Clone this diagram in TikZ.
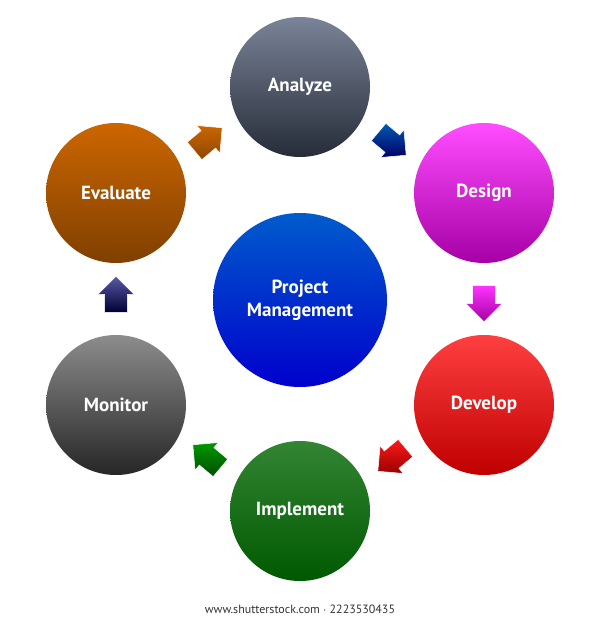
\documentclass[tikz,border=0pt]{standalone}
\usepackage{fontspec}
\setmainfont{PT Sans}
\usetikzlibrary{shapes.arrows}
\definecolor{anaT}{HTML}{7A8498}
\definecolor{anaB}{HTML}{262C38}
\begin{document}
\begin{tikzpicture}[x=1pt,y=-1pt,
  stage/.style={circle,minimum size=140pt,inner sep=0pt,text=white,font=\bfseries\fontsize{19}{23}\selectfont,align=center},
  barrow/.style={single arrow,minimum height=36pt,minimum width=36pt,single arrow head extend=6pt,inner xsep=2pt,inner ysep=10pt,draw=white,line width=0.5pt}]
\useasboundingbox (0,0) rectangle (600,620);
\node[stage,top color=anaT,bottom color=anaB] (ana) at (300,87) {Analyze};
\node[stage,top color=magenta!70,bottom color=violet!70!magenta] (des) at (484,193) {Design};
\node[stage,top color=red!75,bottom color=red!75!black] (dev) at (484,405) {Develop};
\node[stage,top color=green!40!black!80!white,bottom color=green!35!black] (imp) at (300,511) {Implement};
\node[stage,top color=gray!90,bottom color=black!85] (mon) at (116,405) {Monitor};
\node[stage,top color=orange!80!black,bottom color=orange!50!black] (eva) at (116,193) {Evaluate};
\node[stage,minimum size=174pt,top color=blue!55!cyan!80!black,bottom color=blue!80!black] (pm) at (300,300) {Project\\Management};
\node[barrow,rotate=40,top color=orange!80!black,bottom color=orange!55!black] (a1) at (204,143) {};
\node[barrow,rotate=-40,top color=cyan!50!blue!70!black,bottom color=blue!40!black] (a2) at (388,140) {};
\node[barrow,rotate=-90,top color=magenta!80,bottom color=violet!70!magenta] (a3) at (484,298) {};
\node[barrow,rotate=-140,top color=red!90,bottom color=red!60!black] (a4) at (396,456) {};
\node[barrow,rotate=140,top color=green!60!black,bottom color=green!30!black] (a5) at (211,460) {};
\node[barrow,rotate=90,top color=gray!70!blue,bottom color=black!80!blue] (a6) at (116,300) {};
\node[font=\fontsize{12}{14}\selectfont,text=black!80] (wm) at (300,609) {www.shutterstock.com $\cdot$ 2223530435};
\end{tikzpicture}
\end{document}
